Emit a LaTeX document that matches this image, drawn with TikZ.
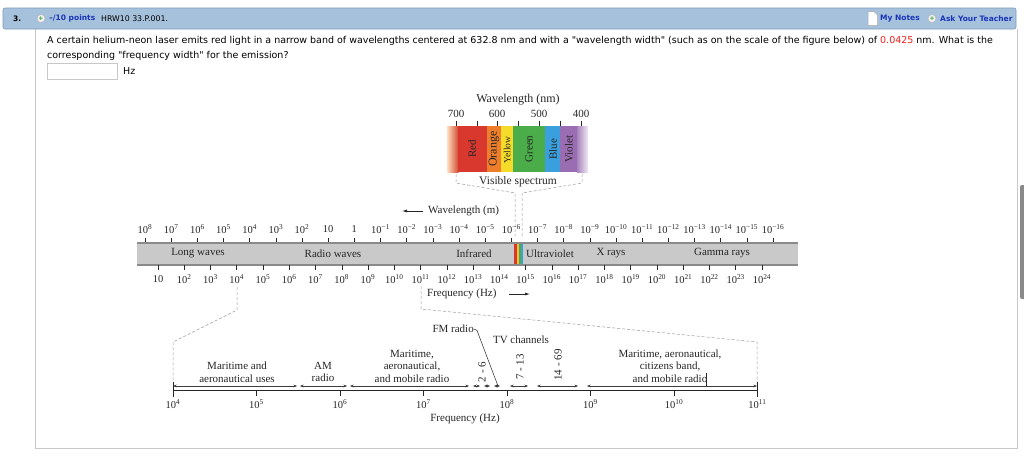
\documentclass[tikz,border=0pt]{standalone}
\usepackage{fontspec}
\setmainfont{Liberation Serif}
\newfontfamily\uifont{DejaVu Sans}
\usetikzlibrary{arrows.meta}
\definecolor{barblue}{HTML}{A6C1DC}
\definecolor{barline}{HTML}{7F9AB8}
\definecolor{linkblue}{HTML}{1A35B8}
\definecolor{ansred}{HTML}{F0201A}
\definecolor{framegray}{HTML}{C8C8C8}
\definecolor{bandgray}{HTML}{C9C9C9}
\definecolor{bandedge}{HTML}{8A8A8A}
\definecolor{figtext}{HTML}{262626}
\definecolor{dashgray}{HTML}{9A9A9A}
\definecolor{scrollgray}{HTML}{8A8A8A}
\definecolor{plusgreen}{HTML}{2E9A2E}
\definecolor{cRed}{HTML}{D8382E}
\definecolor{cOrange}{HTML}{EE7D2C}
\definecolor{cYellow}{HTML}{F5DC2A}
\definecolor{cGreen}{HTML}{4AAD4A}
\definecolor{cBlue}{HTML}{3AA0DD}
\definecolor{cViolet}{HTML}{9A6DB2}
\newcommand\pw[1]{\ifnum#1=1 10\else\ifnum#1=0 1\else\ifnum#1<0 10\textsuperscript{−\number\numexpr(#1)*(-1)\relax}\else 10\textsuperscript{#1}\fi\fi\fi}
\tikzset{
  ui/.style={font=\uifont\fontsize{9.5}{11}\selectfont, inner sep=0pt, anchor=west},
  uihead/.style={font=\uifont\fontsize{7.8}{9}\selectfont, inner sep=0pt, anchor=west},
  uibold/.style={uihead, font=\uifont\bfseries\fontsize{7.5}{9}\selectfont},
  plusicon/.style={circle, draw=gray!60, fill=gray!12, minimum size=8pt, inner sep=0pt,
     font=\uifont\bfseries\fontsize{6}{6}\selectfont, text=plusgreen},
  fig/.style={font=\fontsize{11}{12.5}\selectfont, text=figtext, inner sep=0pt, align=center},
  ticklab/.style={font=\fontsize{10.5}{11}\selectfont, text=figtext, inner sep=0pt},
  bandlab/.style={font=\fontsize{11}{12}\selectfont, text=figtext, inner sep=0pt, rotate=90},
  tickline/.style={draw=figtext, line width=0.6pt},
  dashline/.style={draw=dashgray, dash pattern=on 3pt off 2pt, line width=0.5pt},
  rng/.style={draw=figtext!90, line width=0.5pt, {Stealth[length=3.6pt,width=2.8pt]}-{Stealth[length=3.6pt,width=2.8pt]}},
  dirarrow/.style={draw=figtext, line width=0.7pt, -{Latex[length=5pt,width=3pt]}}
}
\begin{document}
\begin{tikzpicture}[x=1pt,y=-1pt]
\useasboundingbox (0,0) rectangle (1024,459);
\fill[white] (0,0) rectangle (1024,459);
% page frame
\draw[framegray, line width=0.8pt] (35,29) -- (35,448) -- (1017,448) -- (1017,29);
\fill[scrollgray, rounded corners=2pt] (1020,185) rectangle (1026,299);
% header bar
\draw[fill=barblue, draw=barline, line width=0.6pt, rounded corners=2pt] (3,8) rectangle (1016,29);
\node[uibold] (num) at (13,18.5) {3.};
\node[plusicon] (plus1) at (41,18.5) {+};
\node[uibold, text=linkblue] (pts) at (49,18.5) {–/10 points};
\node[uihead] (hrw) at (101,18.5) {HRW10 33.P.001.};
\draw[fill=white, draw=gray!70, line width=0.5pt] (868,11.5) -- (874,11.5) -- (877.5,15) -- (877.5,25.5) -- (868,25.5) -- cycle;
\node[uibold, text=linkblue] (notes) at (880,18.5) {My Notes};
\node[plusicon] (plus2) at (932,18.5) {+};
\node[uibold, text=linkblue] (ask) at (940,18.5) {Ask Your Teacher};
% question
\node[ui] (q1) at (47,41) {A certain helium-neon laser emits red light in a narrow band of wavelengths centered at 632.8 nm and with a "wavelength width" (such as on the scale of the figure below) of \textcolor{ansred}{0.0425} nm. What is the};
\node[ui] (q2) at (47,56) {corresponding "frequency width" for the emission?};
\draw[draw=framegray, fill=white, line width=0.6pt] (47,63) rectangle (117,79);
\node[ui] (hz) at (123,71) {Hz};
% ===== visible spectrum =====
\node[fig, font=\fontsize{12}{13}\selectfont] (vtitle) at (518,100) {Wavelength (nm)};
\foreach \v/\xx in {700/456,600/497,500/539,400/581}
  \node[ticklab, font=\fontsize{11}{12}\selectfont] (vl\v) at (\xx,114) {\v};
\foreach \k in {0,...,6}
  \draw[tickline] ({456+\k*20.83},120.5) -- ({456+\k*20.83},126);
\shade[left color=orange!25!white, right color=cRed!75!brown] (447,126) rectangle (458.5,172);
\fill[cRed] (458,126) rectangle (487,172);
\fill[cOrange] (487,126) rectangle (501,172);
\fill[cYellow] (501,126) rectangle (513,172);
\fill[cGreen] (513,126) rectangle (545,172);
\fill[cBlue] (545,126) rectangle (560,172);
\fill[cViolet] (560,126) rectangle (577.5,172);
\shade[left color=cViolet!85, right color=cViolet!15!white] (577,126) rectangle (588,172);
\node[bandlab] (lred) at (472,149) {Red};
\node[bandlab, font=\fontsize{12}{13}\selectfont] (lora) at (494,149) {Orange};
\node[bandlab, font=\fontsize{9.5}{10}\selectfont] (lyel) at (507,150) {Yellow};
\node[bandlab] (lgre) at (529,149) {Green};
\node[bandlab] (lblu) at (553,149) {Blue};
\node[bandlab] (lvio) at (569,149) {Violet};
\node[fig, font=\fontsize{11.5}{12}\selectfont] (vis) at (518,182) {Visible spectrum};
\coordinate (bl1) at (456,174); \coordinate (bl2) at (456,183); \coordinate (bl3) at (515,193); \coordinate (bl4) at (515,236);
\coordinate (br1) at (582,174); \coordinate (br2) at (582,183); \coordinate (br3) at (522,193); \coordinate (br4) at (522,236);
\draw[dashline] (bl1) -- (bl2) -- (bl3) -- (bl4);
\draw[dashline] (br1) -- (br2) -- (br3) -- (br4);
% ===== main spectrum =====
\node[fig, anchor=west] (wlt) at (428,211) {Wavelength (m)};
\coordinate (wla) at (423,211);
\draw[dirarrow] (wla) -- ++(-21,0);
\foreach \e [count=\i from 0] in {8,7,...,-16} {
  \pgfmathsetmacro\xx{145+\i*26.17}
  \node[ticklab] (wl\i) at (\xx,229) {\pw{\e}};
  \draw[tickline] (\xx,238) -- (\xx,243);
}
\fill[bandgray] (137,243) rectangle (798,265);
\draw[bandedge, line width=1.2pt] (137,243) -- (798,243);
\draw[bandedge, line width=1.2pt] (137,265) -- (798,265);
\fill[cRed] (514,243.6) rectangle (516.5,264.4);
\fill[cYellow!70!cOrange] (516.5,243.6) rectangle (518.7,264.4);
\fill[cGreen] (518.7,243.6) rectangle (520.9,264.4);
\fill[cBlue] (520.9,243.6) rectangle (523,264.4);
\node[fig] (lw) at (198,253.5) {Long waves};
\node[fig] (rw) at (333,253.5) {Radio waves};
\node[fig] (ir) at (474,253.5) {Infrared};
\node[fig] (uv) at (550,253.5) {Ultraviolet};
\node[fig] (xr) at (611,253.5) {X rays};
\node[fig] (gr) at (722,253.5) {Gamma rays};
\foreach \e in {1,...,24} {
  \pgfmathsetmacro\xx{158+(\e-1)*26.26}
  \draw[tickline] (\xx,265) -- (\xx,270);
  \node[ticklab] (fq\e) at (\xx,279) {\pw{\e}};
}
\node[fig, anchor=west] (fqt) at (427,294) {Frequency (Hz)};
\coordinate (fqa) at (509,294);
\draw[dirarrow] (fqa) -- ++(21,0);
% zoom dashed lines
\coordinate (dl1) at (237,287); \coordinate (dl2) at (237,310); \coordinate (dl3) at (173,342); \coordinate (dl4) at (173,383);
\coordinate (dr1) at (421,286); \coordinate (dr2) at (421,309); \coordinate (dr3) at (757,342); \coordinate (dr4) at (757,384);
\draw[dashline] (dl1) -- (dl2) -- (dl3) -- (dl4);
\draw[dashline] (dr1) -- (dr2) -- (dr3) -- (dr4);
% ===== lower frequency axis =====
\foreach \a/\b in {173/297, 300/347, 350/469, 473/480, 484/490, 494/500, 510/528, 537/578, 587/757}
  \draw[rng] (\a,386) -- (\b,386);
\draw[figtext, line width=0.8pt] (173,390) -- (757.5,390);
\draw[tickline] (173,382) -- (173,397);
\draw[tickline] (757.5,382) -- (757.5,397);
\foreach \e/\xx in {4/173,5/256.5,6/340,7/423.5,8/507,9/590.5,10/674,11/757.5} {
  \draw[tickline] (\xx,390) -- (\xx,396);
  \node[ticklab] (bx\e) at (\xx,404) {\pw{\e}};
}
\draw[tickline] (706,373) -- (706,386);
\node[fig] (mar1) at (237,372) {Maritime and\\aeronautical uses};
\node[fig] (am) at (323,372) {AM\\radio};
\node[fig] (mar2) at (412,366) {Maritime,\\aeronautical,\\and mobile radio};
\node[fig, anchor=east] (fm) at (474,329) {FM radio};
\coordinate (fmend) at (498,386);
\draw[figtext, line width=0.5pt] (fm.east) -- ++(3,1.5) -- (fmend);
\node[fig] (tv) at (521,340) {TV channels};
\node[bandlab] (c26) at (482,372) {2 - 6};
\node[bandlab] (c713) at (520,367) {7 - 13};
\node[bandlab] (c1469) at (558,365) {14 - 69};
\node[fig] (mar3) at (670,366) {Maritime, aeronautical,\\citizens band,\\and mobile radio};
\node[fig] (fhz) at (465,419) {Frequency (Hz)};
\end{tikzpicture}
\end{document}
